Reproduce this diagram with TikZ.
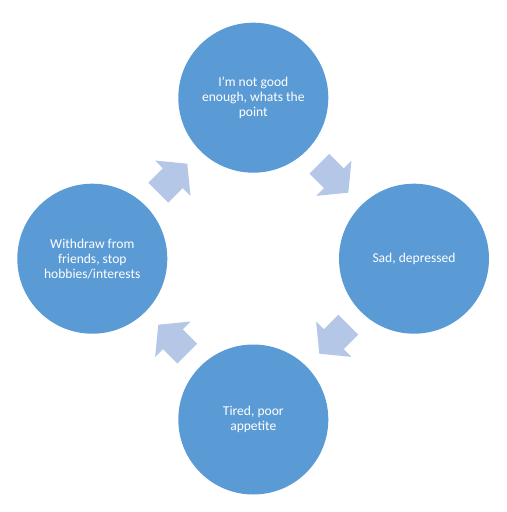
\documentclass[tikz,border=0pt]{standalone}
\usepackage{fontspec}
\setmainfont{Carlito}
\usetikzlibrary{calc}
\definecolor{circfill}{HTML}{5B9BD5}
\definecolor{arrfill}{HTML}{B4C7E7}
\tikzset{
  stage/.style={circle, fill=circfill, minimum size=150bp, inner sep=0pt,
    text=white, align=center, font=\fontsize{13.6}{15}\selectfont},
  cyclearrow/.pic={\fill[arrfill] (-20.5,-14)--(0,-14)--(0,-25)--(20.5,0)--(0,25)--(0,14)--(-20.5,14)--cycle;}
}
\begin{document}
\begin{tikzpicture}[x=1bp,y=-1bp]
\useasboundingbox (0,0) rectangle (507,512);
\coordinate (c) at (253.3,258.7);
\node[stage] (nTop) at (253.3,97.7) {I'm not good\\enough, whats the\\point};
\node[stage] (nRight) at (414,258.7) {Sad, depressed};
\node[stage] (nBottom) at (253.3,419.5) {Tired, poor\\appetite};
\node[stage] (nLeft) at (92.3,258.7) {Withdraw from\\friends, stop\\hobbies/interests};
\pic[rotate=-45] at ($(c)+(80.5,-80.5)$) {cyclearrow};
\pic[rotate=-135] at ($(c)+(80.5,80.5)$) {cyclearrow};
\pic[rotate=135] at ($(c)+(-80.5,80.5)$) {cyclearrow};
\pic[rotate=45] at ($(c)+(-80.5,-80.5)$) {cyclearrow};
\end{tikzpicture}
\end{document}
